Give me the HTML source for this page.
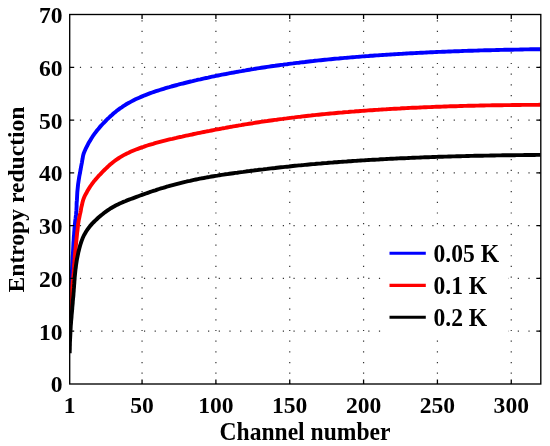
<!DOCTYPE html>
<html><head><meta charset="utf-8"><title>Entropy reduction</title>
<style>
html,body{margin:0;padding:0;background:#fff;}
svg{display:block;}
text{font-family:"Liberation Serif",serif;font-weight:bold;font-size:23.6px;fill:#000;}
</style></head><body>
<svg width="550" height="446" viewBox="0 0 550 446">
<rect width="550" height="446" fill="#fff"/>
<g>
<line x1="142.06" y1="384.0" x2="142.06" y2="14.5" stroke="#333" stroke-width="1.2" stroke-dasharray="1.2 9.48" stroke-dashoffset="-10.18"/>
<line x1="215.90" y1="384.0" x2="215.90" y2="14.5" stroke="#333" stroke-width="1.2" stroke-dasharray="1.2 9.48" stroke-dashoffset="-10.18"/>
<line x1="289.74" y1="384.0" x2="289.74" y2="14.5" stroke="#333" stroke-width="1.2" stroke-dasharray="1.2 9.48" stroke-dashoffset="-10.18"/>
<line x1="363.58" y1="384.0" x2="363.58" y2="14.5" stroke="#333" stroke-width="1.2" stroke-dasharray="1.2 9.48" stroke-dashoffset="-10.18"/>
<line x1="437.42" y1="384.0" x2="437.42" y2="14.5" stroke="#333" stroke-width="1.2" stroke-dasharray="1.2 9.48" stroke-dashoffset="-10.18"/>
<line x1="511.26" y1="384.0" x2="511.26" y2="14.5" stroke="#333" stroke-width="1.2" stroke-dasharray="1.2 9.48" stroke-dashoffset="-10.18"/>
<line x1="69.7" y1="331.21" x2="540.8" y2="331.21" stroke="#333" stroke-width="1.2" stroke-dasharray="1.2 9.48" stroke-dashoffset="-10.18"/>
<line x1="69.7" y1="278.43" x2="540.8" y2="278.43" stroke="#333" stroke-width="1.2" stroke-dasharray="1.2 9.48" stroke-dashoffset="-10.18"/>
<line x1="69.7" y1="225.64" x2="540.8" y2="225.64" stroke="#333" stroke-width="1.2" stroke-dasharray="1.2 9.48" stroke-dashoffset="-10.18"/>
<line x1="69.7" y1="172.86" x2="540.8" y2="172.86" stroke="#333" stroke-width="1.2" stroke-dasharray="1.2 9.48" stroke-dashoffset="-10.18"/>
<line x1="69.7" y1="120.07" x2="540.8" y2="120.07" stroke="#333" stroke-width="1.2" stroke-dasharray="1.2 9.48" stroke-dashoffset="-10.18"/>
<line x1="69.7" y1="67.29" x2="540.8" y2="67.29" stroke="#333" stroke-width="1.2" stroke-dasharray="1.2 9.48" stroke-dashoffset="-10.18"/>
</g>
<clipPath id="ax"><rect x="69.10000000000001" y="14.5" width="472.3" height="369.5"/></clipPath>
<g fill="none" stroke-linejoin="round" stroke-linecap="butt" stroke-width="3.9" clip-path="url(#ax)">
<path d="M69.7,316.0 L69.8,314.0 L69.9,312.0 L69.9,310.0 L70.0,308.0 L70.1,306.0 L70.2,304.0 L70.3,302.0 L70.4,300.0 L70.5,298.0 L70.5,296.0 L70.6,294.0 L70.7,292.0 L70.8,290.0 L70.9,288.0 L71.1,286.0 L71.2,284.0 L71.3,282.0 L71.4,280.0 L71.5,278.0 L71.6,276.0 L71.8,274.1 L71.9,272.1 L72.0,270.1 L72.1,268.1 L72.2,266.1 L72.3,264.1 L72.4,262.1 L72.5,260.1 L72.6,258.1 L72.7,256.1 L72.9,254.1 L73.0,252.1 L73.1,250.1 L73.2,248.1 L73.3,246.1 L73.4,244.1 L73.5,242.1 L73.7,240.1 L73.8,238.1 L73.9,236.1 L74.1,234.1 L74.2,232.1 L74.4,230.1 L74.5,228.1 L74.7,226.1 L74.9,224.2 L75.1,222.2 L75.3,220.2 L75.6,218.2 L75.8,216.2 L76.1,214.2 L76.2,212.2 L76.4,210.2 L76.5,208.2 L76.6,206.2 L76.6,204.2 L76.7,202.2 L76.9,200.2 L77.0,198.3 L77.1,196.3 L77.2,194.3 L77.3,192.3 L77.5,190.3 L77.7,188.3 L77.9,186.3 L78.1,184.3 L78.4,182.3 L78.7,180.3 L79.0,178.4 L79.3,176.4 L79.7,174.4 L80.1,172.5 L80.4,170.5 L80.8,168.5 L81.1,166.6 L81.5,164.6 L81.9,162.6 L82.2,160.7 L82.6,158.7 L82.9,156.7 L83.3,154.8 L83.9,152.9 L84.7,151.0 L85.5,149.2 L86.4,147.4 L87.3,145.6 L88.2,143.8 L89.2,142.1 L90.2,140.4 L91.2,138.7 L92.3,137.0 L93.4,135.3 L94.6,133.7 L95.8,132.1 L97.0,130.5 L98.3,129.0 L99.6,127.4 L100.9,125.9 L102.2,124.5 L103.6,123.0 L105.0,121.6 L106.4,120.1 L107.8,118.7 L109.3,117.4 L110.7,116.0 L112.2,114.7 L113.7,113.3 L115.3,112.1 L116.8,110.8 L118.4,109.6 L120.0,108.4 L121.7,107.3 L123.3,106.2 L125.0,105.1 L126.7,104.0 L128.5,103.0 L130.2,102.1 L132.0,101.1 L133.7,100.2 L135.5,99.3 L137.3,98.5 L139.2,97.7 L141.0,96.9 L142.8,96.1 L144.7,95.3 L146.6,94.6 L148.4,93.9 L150.3,93.2 L152.2,92.5 L154.1,91.8 L156.0,91.2 L157.9,90.6 L159.8,90.0 L161.7,89.4 L163.6,88.8 L165.5,88.2 L167.4,87.6 L169.3,87.1 L171.3,86.5 L173.2,86.0 L175.1,85.5 L177.1,85.0 L179.0,84.4 L180.9,83.9 L182.9,83.5 L184.8,83.0 L186.7,82.5 L188.7,82.0 L190.6,81.5 L192.6,81.1 L194.5,80.6 L196.5,80.2 L198.4,79.7 L200.4,79.3 L202.3,78.8 L204.3,78.4 L206.2,78.0 L208.2,77.6 L210.1,77.1 L212.1,76.7 L214.1,76.3 L216.0,75.9 L218.0,75.5 L219.9,75.1 L221.9,74.7 L223.9,74.3 L225.8,74.0 L227.8,73.6 L229.8,73.2 L231.7,72.8 L233.7,72.5 L235.6,72.1 L237.6,71.8 L239.6,71.4 L241.6,71.1 L243.5,70.7 L245.5,70.4 L247.5,70.0 L249.4,69.7 L251.4,69.4 L253.4,69.1 L255.4,68.7 L257.3,68.4 L259.3,68.1 L261.3,67.8 L263.3,67.5 L265.2,67.2 L267.2,66.9 L269.2,66.6 L271.2,66.3 L273.2,66.0 L275.1,65.8 L277.1,65.5 L279.1,65.2 L281.1,64.9 L283.1,64.7 L285.0,64.4 L287.0,64.2 L289.0,63.9 L291.0,63.6 L293.0,63.4 L295.0,63.1 L297.0,62.9 L298.9,62.7 L300.9,62.4 L302.9,62.2 L304.9,62.0 L306.9,61.7 L308.9,61.5 L310.9,61.3 L312.8,61.1 L314.8,60.8 L316.8,60.6 L318.8,60.4 L320.8,60.2 L322.8,60.0 L324.8,59.8 L326.8,59.6 L328.8,59.4 L330.8,59.2 L332.7,59.0 L334.7,58.8 L336.7,58.6 L338.7,58.5 L340.7,58.3 L342.7,58.1 L344.7,57.9 L346.7,57.8 L348.7,57.6 L350.7,57.4 L352.7,57.2 L354.7,57.1 L356.6,56.9 L358.6,56.8 L360.6,56.6 L362.6,56.4 L364.6,56.3 L366.6,56.1 L368.6,56.0 L370.6,55.8 L372.6,55.7 L374.6,55.5 L376.6,55.4 L378.6,55.3 L380.6,55.1 L382.6,55.0 L384.6,54.9 L386.6,54.7 L388.6,54.6 L390.6,54.5 L392.6,54.4 L394.6,54.2 L396.6,54.1 L398.5,54.0 L400.5,53.9 L402.5,53.8 L404.5,53.6 L406.5,53.5 L408.5,53.4 L410.5,53.3 L412.5,53.2 L414.5,53.1 L416.5,53.0 L418.5,52.9 L420.5,52.8 L422.5,52.7 L424.5,52.6 L426.5,52.5 L428.5,52.4 L430.5,52.3 L432.5,52.2 L434.5,52.1 L436.5,52.0 L438.5,51.9 L440.5,51.9 L442.5,51.8 L444.5,51.7 L446.5,51.6 L448.5,51.5 L450.5,51.5 L452.5,51.4 L454.5,51.3 L456.5,51.2 L458.5,51.2 L460.5,51.1 L462.5,51.0 L464.5,50.9 L466.5,50.9 L468.5,50.8 L470.5,50.7 L472.5,50.7 L474.5,50.6 L476.5,50.6 L478.5,50.5 L480.5,50.4 L482.5,50.4 L484.5,50.3 L486.5,50.3 L488.5,50.2 L490.5,50.2 L492.5,50.1 L494.5,50.1 L496.5,50.0 L498.5,50.0 L500.5,49.9 L502.5,49.9 L504.5,49.8 L506.5,49.8 L508.5,49.7 L510.5,49.7 L512.5,49.7 L514.5,49.6 L516.5,49.6 L518.5,49.6 L520.5,49.5 L522.5,49.5 L524.5,49.4 L526.5,49.4 L528.5,49.4 L530.5,49.3 L532.5,49.3 L534.5,49.3 L536.5,49.3 L538.4,49.2 L540.0,49.2 L540.5,49.2" stroke="#0000ff"/>
<path d="M69.7,318.0 L69.8,316.0 L70.0,314.0 L70.1,312.0 L70.3,310.0 L70.4,308.0 L70.6,306.0 L70.7,304.0 L70.9,302.0 L71.0,300.0 L71.2,298.1 L71.3,296.1 L71.5,294.1 L71.7,292.1 L71.8,290.1 L72.0,288.1 L72.2,286.1 L72.4,284.1 L72.7,282.1 L72.9,280.1 L73.1,278.1 L73.3,276.2 L73.5,274.2 L73.7,272.2 L73.8,270.2 L74.0,268.2 L74.1,266.2 L74.2,264.2 L74.4,262.2 L74.5,260.2 L74.7,258.2 L74.8,256.2 L75.0,254.2 L75.2,252.2 L75.4,250.2 L75.6,248.3 L75.8,246.3 L76.0,244.3 L76.2,242.3 L76.4,240.3 L76.6,238.3 L76.8,236.3 L77.0,234.3 L77.2,232.3 L77.5,230.4 L77.7,228.4 L77.9,226.4 L78.1,224.4 L78.4,222.4 L78.7,220.4 L79.1,218.5 L79.5,216.5 L79.9,214.6 L80.4,212.6 L80.8,210.6 L81.1,208.7 L81.5,206.7 L82.0,204.8 L82.4,202.8 L82.9,200.9 L83.5,199.0 L84.3,197.1 L85.1,195.3 L86.1,193.6 L87.0,191.8 L88.0,190.1 L89.0,188.4 L90.1,186.7 L91.3,185.0 L92.4,183.4 L93.6,181.8 L94.9,180.3 L96.2,178.7 L97.5,177.2 L98.8,175.7 L100.2,174.3 L101.6,172.8 L103.0,171.4 L104.4,170.0 L105.8,168.6 L107.3,167.2 L108.7,165.9 L110.2,164.5 L111.8,163.2 L113.3,162.0 L114.9,160.8 L116.5,159.6 L118.2,158.5 L119.9,157.4 L121.6,156.4 L123.3,155.4 L125.1,154.4 L126.9,153.5 L128.7,152.7 L130.5,151.8 L132.3,151.0 L134.2,150.2 L136.0,149.5 L137.9,148.8 L139.7,148.1 L141.6,147.4 L143.5,146.8 L145.4,146.1 L147.3,145.5 L149.2,144.9 L151.2,144.3 L153.1,143.8 L155.0,143.2 L156.9,142.7 L158.9,142.2 L160.8,141.7 L162.7,141.2 L164.7,140.7 L166.6,140.2 L168.5,139.7 L170.5,139.2 L172.4,138.8 L174.4,138.3 L176.3,137.9 L178.3,137.4 L180.2,137.0 L182.2,136.6 L184.1,136.1 L186.1,135.7 L188.0,135.3 L190.0,134.9 L192.0,134.5 L193.9,134.0 L195.9,133.6 L197.8,133.2 L199.8,132.8 L201.8,132.4 L203.7,132.0 L205.7,131.6 L207.6,131.2 L209.6,130.9 L211.6,130.5 L213.5,130.1 L215.5,129.7 L217.4,129.3 L219.4,129.0 L221.4,128.6 L223.3,128.2 L225.3,127.9 L227.3,127.5 L229.2,127.1 L231.2,126.8 L233.2,126.4 L235.2,126.1 L237.1,125.8 L239.1,125.4 L241.1,125.1 L243.0,124.7 L245.0,124.4 L247.0,124.1 L249.0,123.8 L250.9,123.5 L252.9,123.2 L254.9,122.8 L256.9,122.5 L258.8,122.2 L260.8,121.9 L262.8,121.6 L264.8,121.3 L266.8,121.1 L268.7,120.8 L270.7,120.5 L272.7,120.2 L274.7,119.9 L276.7,119.7 L278.6,119.4 L280.6,119.1 L282.6,118.9 L284.6,118.6 L286.6,118.4 L288.6,118.1 L290.5,117.9 L292.5,117.6 L294.5,117.4 L296.5,117.1 L298.5,116.9 L300.5,116.7 L302.5,116.4 L304.4,116.2 L306.4,116.0 L308.4,115.8 L310.4,115.6 L312.4,115.3 L314.4,115.1 L316.4,114.9 L318.4,114.7 L320.4,114.5 L322.3,114.3 L324.3,114.1 L326.3,113.9 L328.3,113.7 L330.3,113.5 L332.3,113.4 L334.3,113.2 L336.3,113.0 L338.3,112.8 L340.3,112.6 L342.3,112.5 L344.2,112.3 L346.2,112.1 L348.2,112.0 L350.2,111.8 L352.2,111.6 L354.2,111.5 L356.2,111.3 L358.2,111.2 L360.2,111.0 L362.2,110.9 L364.2,110.7 L366.2,110.6 L368.2,110.4 L370.2,110.3 L372.2,110.2 L374.2,110.0 L376.2,109.9 L378.2,109.8 L380.2,109.6 L382.1,109.5 L384.1,109.4 L386.1,109.3 L388.1,109.1 L390.1,109.0 L392.1,108.9 L394.1,108.8 L396.1,108.7 L398.1,108.6 L400.1,108.5 L402.1,108.3 L404.1,108.2 L406.1,108.1 L408.1,108.0 L410.1,107.9 L412.1,107.8 L414.1,107.8 L416.1,107.7 L418.1,107.6 L420.1,107.5 L422.1,107.4 L424.1,107.3 L426.1,107.2 L428.1,107.1 L430.1,107.1 L432.1,107.0 L434.1,106.9 L436.1,106.8 L438.1,106.7 L440.1,106.7 L442.1,106.6 L444.1,106.5 L446.1,106.5 L448.1,106.4 L450.1,106.3 L452.1,106.3 L454.1,106.2 L456.1,106.2 L458.1,106.1 L460.1,106.0 L462.1,106.0 L464.1,105.9 L466.1,105.9 L468.1,105.8 L470.1,105.8 L472.1,105.7 L474.1,105.7 L476.1,105.6 L478.1,105.6 L480.1,105.5 L482.1,105.5 L484.1,105.5 L486.1,105.4 L488.1,105.4 L490.1,105.4 L492.1,105.3 L494.1,105.3 L496.1,105.3 L498.1,105.2 L500.1,105.2 L502.1,105.2 L504.1,105.1 L506.1,105.1 L508.1,105.1 L510.1,105.1 L512.1,105.0 L514.1,105.0 L516.1,105.0 L518.1,105.0 L520.1,105.0 L522.1,104.9 L524.1,104.9 L526.1,104.9 L528.1,104.9 L530.1,104.9 L532.1,104.9 L534.1,104.9 L536.1,104.9 L538.0,104.9 L539.6,104.8 L540.5,104.8" stroke="#ff0000"/>
<path d="M69.7,353.2 L69.7,350.8 L69.8,349.1 L69.8,347.2 L69.9,345.2 L69.9,343.2 L70.0,341.2 L70.1,339.2 L70.2,337.2 L70.3,335.2 L70.4,333.2 L70.4,331.2 L70.6,329.2 L70.7,327.2 L70.8,325.2 L71.0,323.2 L71.1,321.2 L71.3,319.2 L71.5,317.3 L71.6,315.3 L71.8,313.3 L72.0,311.3 L72.2,309.3 L72.3,307.3 L72.5,305.3 L72.7,303.3 L72.8,301.3 L73.0,299.3 L73.2,297.3 L73.4,295.3 L73.5,293.3 L73.7,291.3 L73.8,289.4 L74.0,287.4 L74.1,285.4 L74.3,283.4 L74.4,281.4 L74.6,279.4 L74.7,277.4 L74.9,275.4 L75.1,273.4 L75.3,271.4 L75.5,269.4 L75.8,267.4 L76.0,265.5 L76.3,263.5 L76.6,261.5 L76.9,259.5 L77.3,257.6 L77.7,255.6 L78.1,253.6 L78.5,251.7 L79.0,249.7 L79.5,247.8 L80.0,245.9 L80.6,244.0 L81.2,242.1 L81.9,240.2 L82.6,238.3 L83.4,236.5 L84.3,234.7 L85.3,233.0 L86.3,231.3 L87.4,229.6 L88.6,228.0 L89.8,226.4 L91.1,224.9 L92.4,223.4 L93.8,222.0 L95.2,220.6 L96.7,219.2 L98.2,217.8 L99.7,216.5 L101.2,215.2 L102.8,214.0 L104.3,212.8 L105.9,211.6 L107.6,210.4 L109.2,209.3 L110.9,208.2 L112.6,207.2 L114.4,206.2 L116.1,205.3 L117.9,204.4 L119.7,203.5 L121.6,202.7 L123.4,201.9 L125.2,201.2 L127.1,200.4 L129.0,199.7 L130.8,199.0 L132.7,198.3 L134.6,197.6 L136.5,196.9 L138.3,196.2 L140.2,195.5 L142.1,194.8 L144.0,194.2 L145.9,193.5 L147.8,192.8 L149.6,192.2 L151.5,191.5 L153.4,190.9 L155.3,190.3 L157.2,189.6 L159.1,189.0 L161.0,188.4 L163.0,187.9 L164.9,187.3 L166.8,186.7 L168.7,186.2 L170.6,185.6 L172.6,185.1 L174.5,184.6 L176.4,184.1 L178.4,183.6 L180.3,183.1 L182.2,182.6 L184.2,182.1 L186.1,181.7 L188.1,181.2 L190.0,180.8 L192.0,180.3 L193.9,179.9 L195.9,179.5 L197.9,179.1 L199.8,178.7 L201.8,178.3 L203.7,178.0 L205.7,177.6 L207.7,177.2 L209.7,176.9 L211.6,176.5 L213.6,176.2 L215.6,175.9 L217.5,175.6 L219.5,175.2 L221.5,174.9 L223.5,174.6 L225.4,174.3 L227.4,174.1 L229.4,173.8 L231.4,173.5 L233.4,173.2 L235.3,172.9 L237.3,172.7 L239.3,172.4 L241.3,172.1 L243.3,171.9 L245.3,171.6 L247.2,171.3 L249.2,171.1 L251.2,170.8 L253.2,170.6 L255.2,170.3 L257.2,170.1 L259.1,169.8 L261.1,169.6 L263.1,169.4 L265.1,169.1 L267.1,168.9 L269.1,168.6 L271.1,168.4 L273.1,168.2 L275.0,168.0 L277.0,167.7 L279.0,167.5 L281.0,167.3 L283.0,167.1 L285.0,166.9 L287.0,166.7 L289.0,166.5 L290.9,166.2 L292.9,166.0 L294.9,165.8 L296.9,165.6 L298.9,165.4 L300.9,165.3 L302.9,165.1 L304.9,164.9 L306.9,164.7 L308.9,164.5 L310.9,164.3 L312.8,164.1 L314.8,164.0 L316.8,163.8 L318.8,163.6 L320.8,163.5 L322.8,163.3 L324.8,163.1 L326.8,163.0 L328.8,162.8 L330.8,162.6 L332.8,162.5 L334.8,162.3 L336.8,162.2 L338.8,162.0 L340.8,161.9 L342.7,161.7 L344.7,161.6 L346.7,161.5 L348.7,161.3 L350.7,161.2 L352.7,161.0 L354.7,160.9 L356.7,160.8 L358.7,160.6 L360.7,160.5 L362.7,160.4 L364.7,160.3 L366.7,160.1 L368.7,160.0 L370.7,159.9 L372.7,159.8 L374.7,159.7 L376.7,159.6 L378.7,159.5 L380.7,159.3 L382.7,159.2 L384.7,159.1 L386.7,159.0 L388.7,158.9 L390.7,158.8 L392.7,158.7 L394.7,158.6 L396.7,158.5 L398.6,158.4 L400.6,158.3 L402.6,158.2 L404.6,158.2 L406.6,158.1 L408.6,158.0 L410.6,157.9 L412.6,157.8 L414.6,157.7 L416.6,157.6 L418.6,157.6 L420.6,157.5 L422.6,157.4 L424.6,157.3 L426.6,157.3 L428.6,157.2 L430.6,157.1 L432.6,157.0 L434.6,157.0 L436.6,156.9 L438.6,156.8 L440.6,156.8 L442.6,156.7 L444.6,156.6 L446.6,156.6 L448.6,156.5 L450.6,156.5 L452.6,156.4 L454.6,156.4 L456.6,156.3 L458.6,156.2 L460.6,156.2 L462.6,156.1 L464.6,156.1 L466.6,156.0 L468.6,156.0 L470.6,155.9 L472.6,155.9 L474.6,155.8 L476.6,155.8 L478.6,155.8 L480.6,155.7 L482.6,155.7 L484.6,155.6 L486.6,155.6 L488.6,155.6 L490.6,155.5 L492.6,155.5 L494.6,155.5 L496.6,155.4 L498.6,155.4 L500.6,155.4 L502.6,155.3 L504.6,155.3 L506.6,155.3 L508.6,155.2 L510.6,155.2 L512.6,155.2 L514.6,155.2 L516.6,155.1 L518.6,155.1 L520.6,155.1 L522.6,155.1 L524.6,155.0 L526.6,155.0 L528.6,155.0 L530.6,155.0 L532.6,155.0 L534.6,155.0 L536.5,154.9 L538.1,154.9 L540.5,154.9" stroke="#000"/>
</g>
<rect x="382" y="231" width="126" height="105" fill="#fff"/>
<g stroke-width="3.1">
<line x1="389.5" y1="253.2" x2="425.8" y2="253.2" stroke="#0000ff"/>
<line x1="389.5" y1="285.4" x2="425.8" y2="285.4" stroke="#ff0000"/>
<line x1="389.5" y1="317.3" x2="425.8" y2="317.3" stroke="#000"/>
</g>
<text transform="translate(433.5,262.3) scale(1,1.03)">0.05 K</text>
<text transform="translate(433.5,294.1) scale(1,1.03)">0.1 K</text>
<text transform="translate(433.5,325.6) scale(1,1.03)">0.2 K</text>
<path d="M142.06,384.0 v-4.5 M142.06,14.5 v4.5 M215.90,384.0 v-4.5 M215.90,14.5 v4.5 M289.74,384.0 v-4.5 M289.74,14.5 v4.5 M363.58,384.0 v-4.5 M363.58,14.5 v4.5 M437.42,384.0 v-4.5 M437.42,14.5 v4.5 M511.26,384.0 v-4.5 M511.26,14.5 v4.5 M69.7,331.21 h4.5 M540.8,331.21 h-4.5 M69.7,278.43 h4.5 M540.8,278.43 h-4.5 M69.7,225.64 h4.5 M540.8,225.64 h-4.5 M69.7,172.86 h4.5 M540.8,172.86 h-4.5 M69.7,120.07 h4.5 M540.8,120.07 h-4.5 M69.7,67.29 h4.5 M540.8,67.29 h-4.5" stroke="#000" stroke-width="1.3" fill="none"/>
<rect x="69.7" y="14.5" width="471.1" height="369.5" fill="none" stroke="#000" stroke-width="1.35"/>
<g>
<text transform="translate(69.7,413.1) scale(1,1.0)" text-anchor="middle">1</text>
<text transform="translate(142.1,413.1) scale(1,1.0)" text-anchor="middle">50</text>
<text transform="translate(215.9,413.1) scale(1,1.0)" text-anchor="middle">100</text>
<text transform="translate(289.7,413.1) scale(1,1.0)" text-anchor="middle">150</text>
<text transform="translate(363.6,413.1) scale(1,1.0)" text-anchor="middle">200</text>
<text transform="translate(437.4,413.1) scale(1,1.0)" text-anchor="middle">250</text>
<text transform="translate(511.3,413.1) scale(1,1.0)" text-anchor="middle">300</text>
<text transform="translate(62.6,392.4) scale(1,1.0)" text-anchor="end">0</text>
<text transform="translate(62.6,339.6) scale(1,1.0)" text-anchor="end">10</text>
<text transform="translate(62.6,286.8) scale(1,1.0)" text-anchor="end">20</text>
<text transform="translate(62.6,234.0) scale(1,1.0)" text-anchor="end">30</text>
<text transform="translate(62.6,181.3) scale(1,1.0)" text-anchor="end">40</text>
<text transform="translate(62.6,128.5) scale(1,1.0)" text-anchor="end">50</text>
<text transform="translate(62.6,75.7) scale(1,1.0)" text-anchor="end">60</text>
<text transform="translate(62.6,22.9) scale(1,1.0)" text-anchor="end">70</text>
</g>
<text transform="translate(305,439.6) scale(1,1.04)" text-anchor="middle">Channel number</text>
<text transform="translate(23.5,199.5) rotate(-90)" text-anchor="middle">Entropy reduction</text>
</svg>
</body></html>
